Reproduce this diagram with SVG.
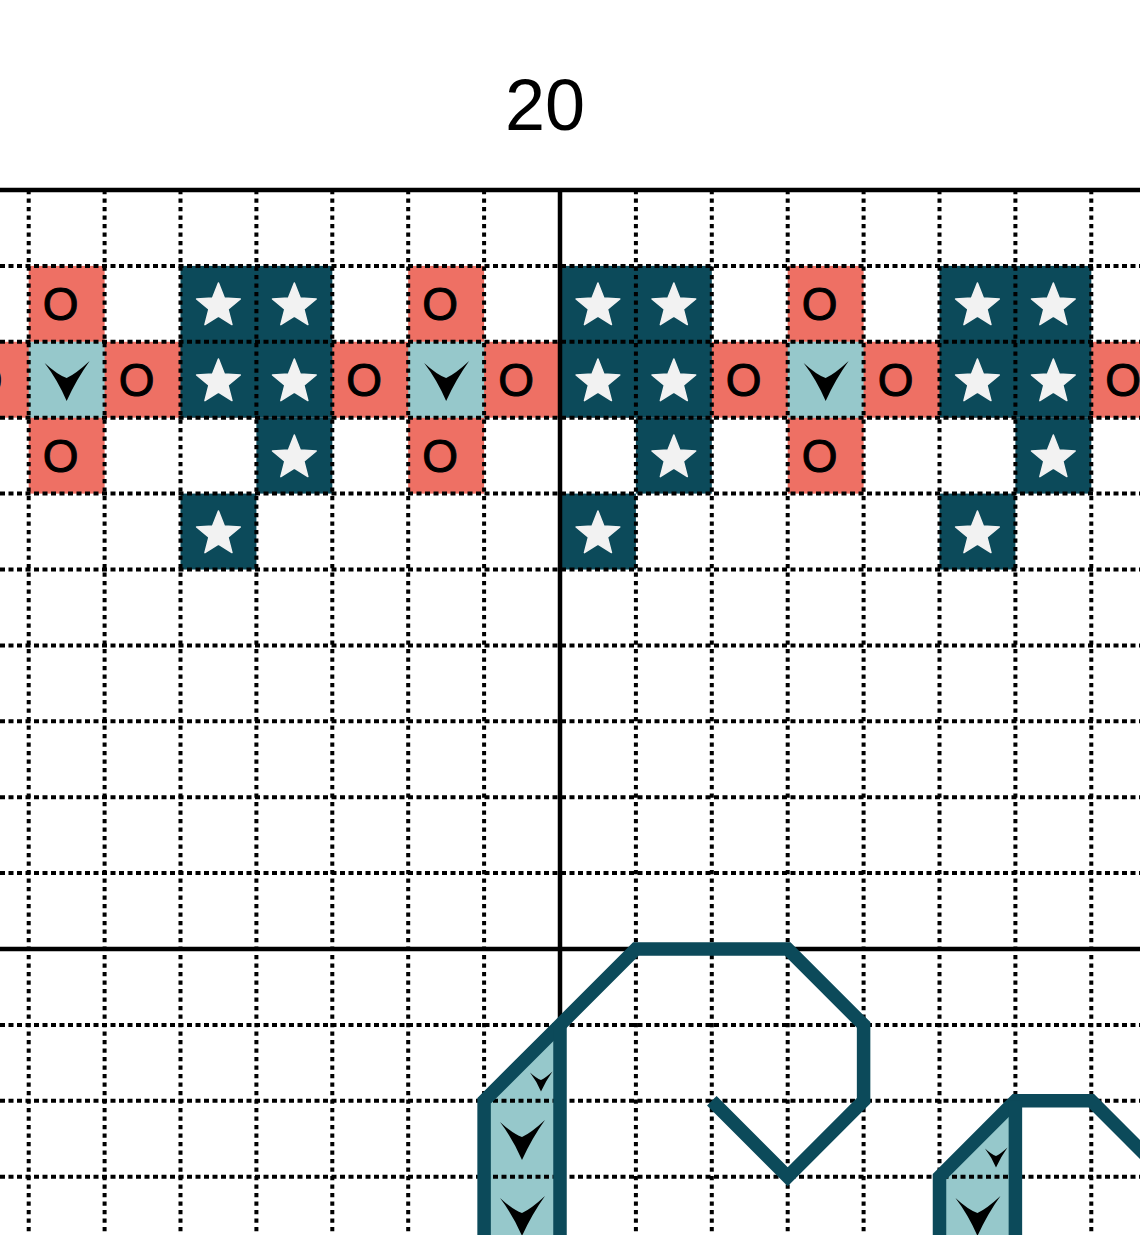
<svg xmlns="http://www.w3.org/2000/svg" xmlns:xlink="http://www.w3.org/1999/xlink" width="1140" height="1235" viewBox="0 0 1140 1235">
<style>
.sal{fill:#EE7064}
.lt{fill:#96C8CB}
.dk{fill:#0C4A5A}
.o{font-family:"Liberation Sans",Arial,sans-serif;font-size:46px;fill:#000;stroke:#000;stroke-width:1;text-anchor:middle}
.dv{stroke:#000;stroke-width:4;stroke-dasharray:4.2 4.3;fill:none}
.dh{stroke:#000;stroke-width:4;stroke-dasharray:5 3.5;fill:none}
.solid{stroke:#000;stroke-width:4.5;fill:none}
.thread{stroke:#0C4A5A;stroke-width:13.5;fill:none;stroke-linejoin:miter;stroke-linecap:butt}
</style>
<defs>
<path id="star" d="M0,-23 L5.88,-8.09 L21.87,-7.11 L9.51,3.09 L13.52,18.61 L0,10 L-13.52,18.61 L-9.51,3.09 L-21.87,-7.11 L-5.88,-8.09 Z" fill="#F2F2F2" stroke="#F2F2F2" stroke-width="1.5" stroke-linejoin="round"/>
<path id="chev" d="M-22,-17 Q-9,-5 0,-2 Q9,-6 23,-19 Q10,-1 0,21 Q-9,0 -22,-17 Z" fill="#000"/>
</defs>
<rect width="1140" height="1235" fill="#fff"/>
<text x="545" y="130" font-family="Liberation Sans, Arial, sans-serif" font-size="72" text-anchor="middle" fill="#000">20</text>

<g id="cells">
  <rect class="sal" x="0" y="341.8" width="1140" height="75.9"/>
  <rect class="sal" x="28.7" y="265.9" width="75.9" height="75.9"/>
  <rect class="sal" x="408.2" y="265.9" width="75.9" height="75.9"/>
  <rect class="sal" x="787.7" y="265.9" width="75.9" height="75.9"/>
  <rect class="sal" x="28.7" y="417.7" width="75.9" height="75.9"/>
  <rect class="sal" x="408.2" y="417.7" width="75.9" height="75.9"/>
  <rect class="sal" x="787.7" y="417.7" width="75.9" height="75.9"/>
  <rect class="lt" x="28.7" y="341.8" width="75.9" height="75.9"/>
  <rect class="lt" x="408.2" y="341.8" width="75.9" height="75.9"/>
  <rect class="lt" x="787.7" y="341.8" width="75.9" height="75.9"/>
  <rect class="dk" x="180.5" y="265.9" width="151.8" height="151.8"/>
  <rect class="dk" x="560" y="265.9" width="151.8" height="151.8"/>
  <rect class="dk" x="939.5" y="265.9" width="151.8" height="151.8"/>
  <rect class="dk" x="256.4" y="417.7" width="75.9" height="75.9"/>
  <rect class="dk" x="635.9" y="417.7" width="75.9" height="75.9"/>
  <rect class="dk" x="1015.4" y="417.7" width="75.9" height="75.9"/>
  <rect class="dk" x="180.5" y="493.6" width="75.9" height="75.9"/>
  <rect class="dk" x="560" y="493.6" width="75.9" height="75.9"/>
  <rect class="dk" x="939.5" y="493.6" width="75.9" height="75.9"/>
  <polygon class="lt" points="484.1,1100.8 560,1024.9 560,1235 484.1,1235"/>
  <polygon class="lt" points="939.5,1176.7 1015.4,1100.8 1015.4,1235 939.5,1235"/>
</g>

<g id="symbols">
  <g class="o">
    <text x="60.65" y="320">O</text>
    <text x="440.15" y="320">O</text>
    <text x="819.65" y="320">O</text>
    <text x="-15.25" y="396">O</text>
    <text x="136.55" y="396">O</text>
    <text x="364.25" y="396">O</text>
    <text x="516.05" y="396">O</text>
    <text x="743.75" y="396">O</text>
    <text x="895.55" y="396">O</text>
    <text x="1123.25" y="396">O</text>
    <text x="60.65" y="472">O</text>
    <text x="440.15" y="472">O</text>
    <text x="819.65" y="472">O</text>
  </g>
  <use xlink:href="#chev" x="66.65" y="380"/>
  <use xlink:href="#chev" x="446.15" y="380"/>
  <use xlink:href="#chev" x="825.65" y="380"/>
  <use xlink:href="#star" x="218.45" y="306"/>
  <use xlink:href="#star" x="294.35" y="306"/>
  <use xlink:href="#star" x="597.95" y="306"/>
  <use xlink:href="#star" x="673.85" y="306"/>
  <use xlink:href="#star" x="977.45" y="306"/>
  <use xlink:href="#star" x="1053.35" y="306"/>
  <use xlink:href="#star" x="218.45" y="382"/>
  <use xlink:href="#star" x="294.35" y="382"/>
  <use xlink:href="#star" x="597.95" y="382"/>
  <use xlink:href="#star" x="673.85" y="382"/>
  <use xlink:href="#star" x="977.45" y="382"/>
  <use xlink:href="#star" x="1053.35" y="382"/>
  <use xlink:href="#star" x="294.35" y="458"/>
  <use xlink:href="#star" x="673.85" y="458"/>
  <use xlink:href="#star" x="1053.35" y="458"/>
  <use xlink:href="#star" x="218.45" y="534"/>
  <use xlink:href="#star" x="597.95" y="534"/>
  <use xlink:href="#star" x="977.45" y="534"/>
  <use xlink:href="#chev" x="522" y="1139"/>
  <use xlink:href="#chev" x="522" y="1215"/>
  <use xlink:href="#chev" transform="translate(541,1081) scale(0.5)"/>
  <use xlink:href="#chev" x="977.45" y="1215"/>
  <use xlink:href="#chev" transform="translate(996,1157) scale(0.5)"/>
</g>

<g id="grid">
  <path class="dv" d="M28.7,190V1235 M104.6,190V1235 M180.5,190V1235 M256.4,190V1235 M332.3,190V1235 M408.2,190V1235 M484.1,190V1235 M635.9,190V1235 M711.8,190V1235 M787.7,190V1235 M863.6,190V1235 M939.5,190V1235 M1015.4,190V1235 M1091.3,190V1235"/>
  <path class="dh" d="M0,265.9H1140 M0,341.8H1140 M0,417.7H1140 M0,493.6H1140 M0,569.5H1140 M0,645.4H1140 M0,721.3H1140 M0,797.2H1140 M0,873.1H1140 M0,1024.9H1140 M0,1100.8H1140 M0,1176.7H1140"/>
  <path class="solid" d="M0,190H1140 M0,949H1140 M560,190V1235"/>
</g>

<g id="connectors">
  <polyline class="thread" points="484.1,1235 484.1,1100.8 560,1024.9 635.9,949 787.7,949 863.6,1024.9 863.6,1100.8 787.7,1176.7 711.8,1100.8"/>
  <path class="thread" d="M560,1024.9V1235"/>
  <polyline class="thread" points="939.5,1235 939.5,1176.7 1015.4,1100.8 1091.3,1100.8 1225.3,1234.8"/>
  <path class="thread" d="M1015.4,1100.8V1235"/>
</g>
</svg>
